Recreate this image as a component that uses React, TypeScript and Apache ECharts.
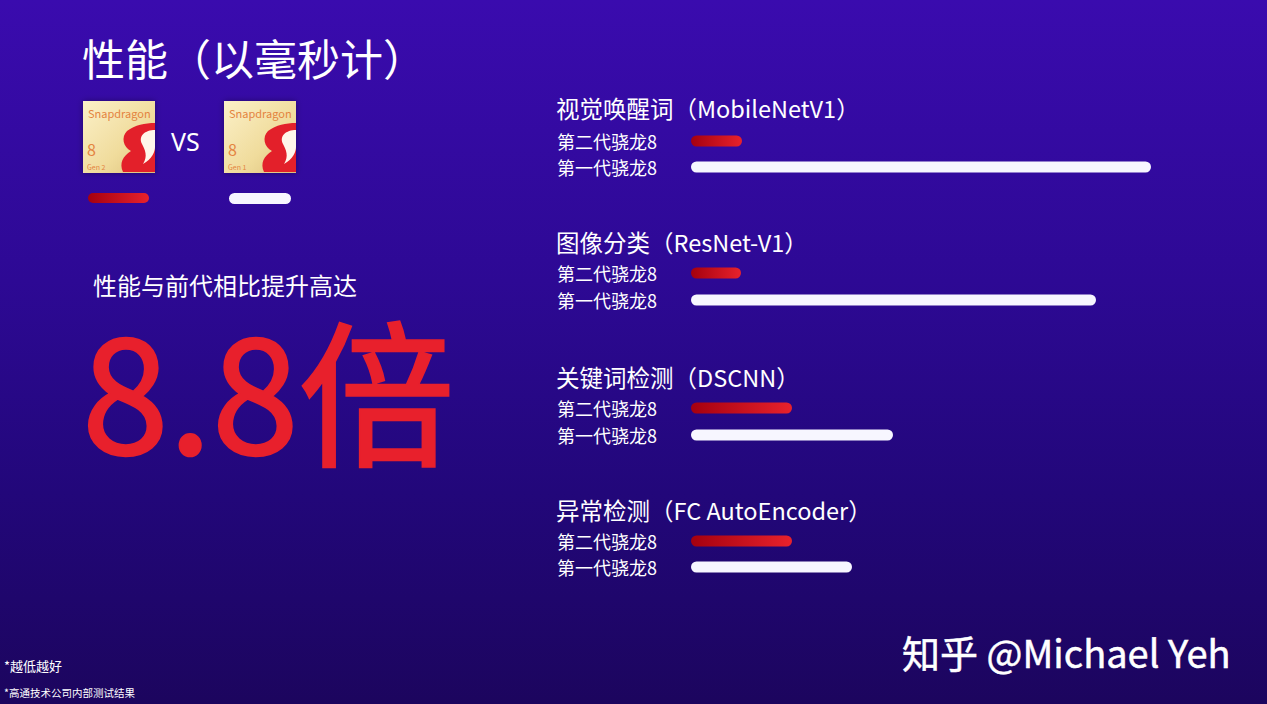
import React, { useEffect, useRef } from "react";
import * as echarts from "echarts";

const groupNames = [
  "视觉唤醒词（MobileNetV1）",
  "图像分类（ResNet-V1）",
  "关键词检测（DSCNN）",
  "异常检测（FC AutoEncoder）",
];
const chipNames = ["第二代骁龙8", "第一代骁龙8"];
const gen2Values = [5.1, 5.0, 10.1, 10.1];
const gen1Values = [46.0, 40.5, 20.2, 16.1];
const axisMax = 46;

const FONT = '"Noto Sans CJK SC", "Noto Sans", sans-serif';

const redPath =
  "M 44 30 C 52 24 62 22 72 22 L 72 71 L 40 71 C 36 62 40 55 48 50 C 40 46 38 36 44 30 Z";
const whitePath =
  "M 72 29 C 62 29 55 35 59 43 C 62 49 65 55 60 63 C 69 58 72 51 72 46 Z";

let registered = false;
function registerShapes() {
  if (registered) return;
  echarts.graphic.registerShape("snapRed", echarts.graphic.extendPath(redPath, {}));
  echarts.graphic.registerShape("snapWhite", echarts.graphic.extendPath(whitePath, {}));
  registered = true;
}

function logo(x: number, y: number, gen: string) {
  return {
    type: "group",
    x,
    y,
    children: [
      {
        type: "rect",
        shape: { x: 0, y: 0, width: 72, height: 72 },
        style: {
          fill: new echarts.graphic.LinearGradient(0, 0, 1, 1, [
            { offset: 0, color: "#fbf0c8" },
            { offset: 0.6, color: "#f0dc9c" },
            { offset: 1, color: "#dcc07a" },
          ]),
          shadowBlur: 6,
          shadowColor: "rgba(0,0,0,0.35)",
        },
      },
      { type: "snapRed", x: 0, y: 0, style: { fill: "#e3202a" } },
      { type: "snapWhite", x: 0, y: 0, style: { fill: "#fff6ea" } },
      {
        type: "text",
        x: 5,
        y: 12,
        style: {
          text: "Snapdragon",
          fill: "#e4843f",
          font: `11px ${FONT}`,
          lineHeight: 11,
          textVerticalAlign: "middle",
        },
      },
      {
        type: "text",
        x: 4,
        y: 48,
        style: {
          text: "8",
          fill: "#e4843f",
          font: `16px ${FONT}`,
          lineHeight: 14,
          textVerticalAlign: "middle",
        },
      },
      {
        type: "text",
        x: 4,
        y: 66,
        style: {
          text: gen,
          fill: "#e4843f",
          font: `7px ${FONT}`,
          lineHeight: 7,
          textVerticalAlign: "middle",
        },
      },
    ],
  };
}

export default function App() {
  const ref = useRef<HTMLDivElement>(null);

  useEffect(() => {
    document.body.style.margin = "0";
    registerShapes();
    const chart = echarts.init(ref.current!, undefined, { renderer: "svg" });

    const redGrad = () =>
      new echarts.graphic.LinearGradient(0, 0, 1, 0, [
        { offset: 0, color: "#a5000f" },
        { offset: 1, color: "#e8222c" },
      ]);

    const titleY = [108, 242, 377, 510];
    const barTop = [141, 273, 408, 541];
    const barGap = [26, 27, 27, 26];

    const grids = groupNames.map((_, i) => ({
      left: 691,
      width: 460,
      top: barTop[i] - barGap[i] / 2,
      height: barGap[i] * 2,
    }));

    const xAxes = groupNames.map((_, i) => ({
      type: "value",
      gridIndex: i,
      min: 0,
      max: axisMax,
      show: false,
    }));

    const yAxes = groupNames.map((_, i) => ({
      type: "category",
      gridIndex: i,
      data: chipNames,
      inverse: true,
      axisLine: { show: false },
      axisTick: { show: false },
      axisLabel: {
        color: "#ffffff",
        fontSize: 18,
        fontFamily: FONT,
        align: "left",
        margin: 134,
      },
    }));

    const series: any[] = groupNames.map((_, i) => ({
      type: "bar",
      xAxisIndex: i,
      yAxisIndex: i,
      barWidth: 11,
      data: [
        { value: gen2Values[i], itemStyle: { color: redGrad(), borderRadius: 6 } },
        { value: gen1Values[i], itemStyle: { color: "#f7f6ff", borderRadius: 6 } },
      ],
      silent: true,
    }));

    const groupTitles = groupNames.map((name, i) => ({
      type: "text",
      x: 556,
      y: titleY[i],
      style: {
        text: name,
        fill: "#ffffff",
        font: `23.5px ${FONT}`,
        textVerticalAlign: "middle",
      },
    }));

    chart.setOption({
      animation: false,
      backgroundColor: "transparent",
      grid: grids,
      xAxis: xAxes,
      yAxis: yAxes,
      series,
      graphic: [
        {
          type: "text",
          x: 82,
          y: 57,
          style: {
            text: "性能（以毫秒计）",
            fill: "#ffffff",
            font: `43px ${FONT}`,
            textVerticalAlign: "middle",
          },
        },
        logo(83, 101, "Gen 2"),
        logo(224, 101, "Gen 1"),
        {
          type: "text",
          x: 171,
          y: 141,
          style: {
            text: "VS",
            fill: "#ffffff",
            font: `25px "Noto Sans", sans-serif`,
            textVerticalAlign: "middle",
          },
        },
        {
          type: "rect",
          shape: { x: 88, y: 193, width: 61, height: 10, r: 5 },
          style: { fill: redGrad() },
        },
        {
          type: "rect",
          shape: { x: 229, y: 193, width: 62, height: 11, r: 5.5 },
          style: { fill: "#f7f6ff" },
        },
        {
          type: "text",
          x: 93,
          y: 284,
          style: {
            text: "性能与前代相比提升高达",
            fill: "#ffffff",
            font: `24px ${FONT}`,
            lineHeight: 26,
            textVerticalAlign: "middle",
          },
        },
        {
          type: "text",
          x: 82,
          y: 386,
          style: {
            text: "8.8倍",
            fill: "#e8202c",
            stroke: "#e8202c",
            lineWidth: 2.5,
            font: `156px ${FONT}`,
            lineHeight: 120,
            textVerticalAlign: "middle",
          },
        },
        ...groupTitles,
        {
          type: "text",
          x: 4,
          y: 665,
          style: {
            text: "*越低越好",
            fill: "#ffffff",
            font: `13px ${FONT}`,
            textVerticalAlign: "middle",
          },
        },
        {
          type: "text",
          x: 4,
          y: 692,
          style: {
            text: "*高通技术公司内部测试结果",
            fill: "#ffffff",
            font: `10.5px ${FONT}`,
            textVerticalAlign: "middle",
          },
        },
        {
          type: "text",
          x: 902,
          y: 651,
          style: {
            text: "知乎 @Michael Yeh",
            fill: "#ffffff",
            stroke: "#ffffff",
            lineWidth: 0.5,
            font: `38px ${FONT}`,
            textVerticalAlign: "middle",
          },
        },
      ],
    });

    return () => chart.dispose();
  }, []);

  return (
    <div
      style={{
        position: "absolute",
        left: 0,
        top: 0,
        width: 1267,
        height: 704,
        background:
          "linear-gradient(180deg, #3a0bae 0%, #2d0994 40%, #22077a 70%, #1c055e 100%)",
      }}
    >
      <div ref={ref} style={{ width: 1267, height: 704 }} />
    </div>
  );
}
